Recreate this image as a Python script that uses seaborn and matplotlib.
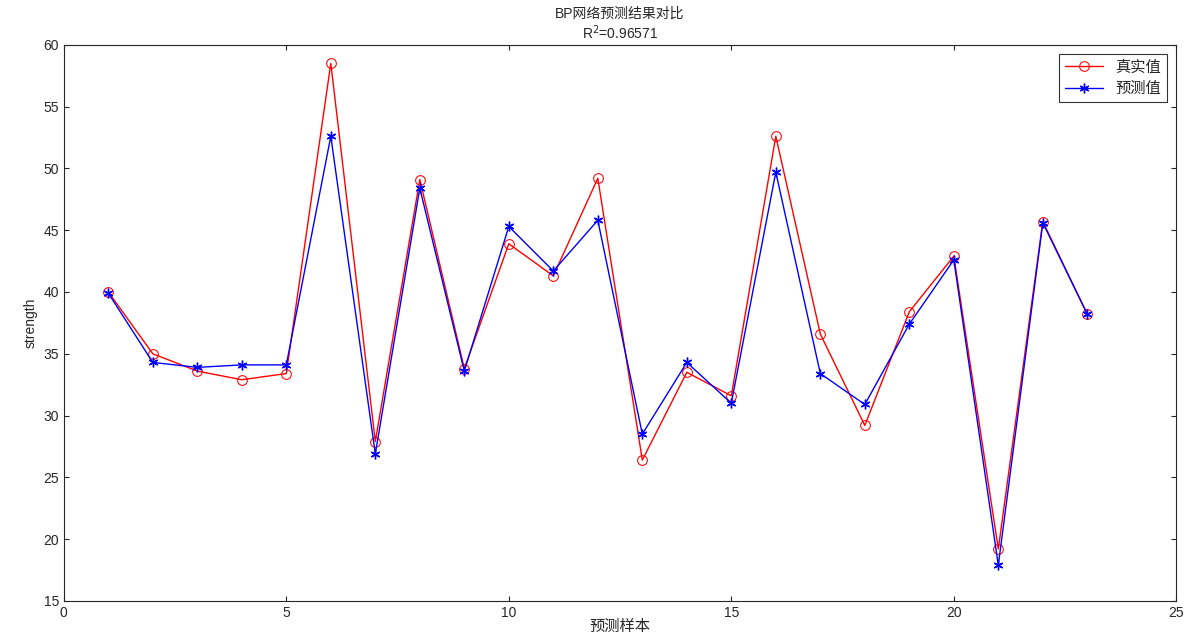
import numpy as np
import pandas as pd
import matplotlib
matplotlib.use("Agg")
import matplotlib.pyplot as plt
import seaborn as sns

# sample index and values
samples = list(range(1, 24))
actual = [40.0, 35.0, 33.6, 32.9, 33.4, 58.5, 27.9, 49.1, 33.8, 43.9, 41.3, 49.2,
          26.4, 33.5, 31.6, 52.6, 36.6, 29.2, 38.4, 42.9, 19.2, 45.7, 38.2]
predicted = [39.9, 34.3, 33.9, 34.1, 34.1, 52.6, 26.9, 48.4, 33.6, 45.3, 41.7, 45.8,
             28.5, 34.3, 31.0, 49.7, 33.4, 30.9, 37.4, 42.6, 17.9, 45.6, 38.2]

sns.set_style("ticks")
plt.rcParams['font.family'] = ['Liberation Sans', 'Noto Sans CJK SC', 'DejaVu Sans']

df = pd.DataFrame({"x": samples, "actual": actual, "pred": predicted})

fig = plt.figure(figsize=(12.04, 6.4), dpi=100)
ax = fig.add_axes([0.053, 0.061, 0.924, 0.869])

sns.lineplot(data=df, x="x", y="actual", ax=ax, color="red", marker="o",
             markerfacecolor="none", markeredgecolor="red", markersize=7,
             linewidth=1, label="真实值")
sns.lineplot(data=df, x="x", y="pred", ax=ax, color="blue", marker=(6, 2, 0),
             markersize=7, markeredgecolor="blue", markeredgewidth=1,
             linewidth=1, label="预测值")

ax.set_xlim(0, 25)
ax.set_ylim(15, 60)
ax.set_xticks(range(0, 26, 5))
ax.set_yticks(range(15, 61, 5))
ax.tick_params(direction="in", labelsize=10, top=True, right=True)
for s in ax.spines.values():
    s.set_visible(True)
    s.set_linewidth(0.8)
ax.set_xlabel("预测样本", fontsize=11, labelpad=0)
ax.set_ylabel("strength", fontsize=10)
ax.set_title("BP网络预测结果对比\nR$^2$=0.96571", fontsize=10, pad=4)

leg = ax.legend(loc="upper right", fontsize=11, frameon=True, fancybox=False,
                edgecolor="black", borderaxespad=0.6, handlelength=2.5)
leg.get_frame().set_linewidth(0.8)

fig.savefig("out.png", dpi=100)
